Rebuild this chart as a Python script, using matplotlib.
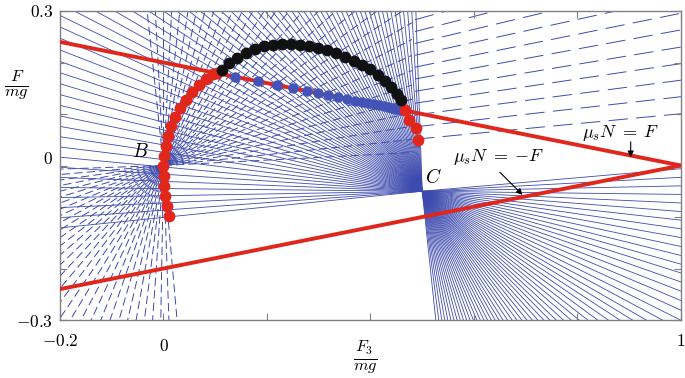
import numpy as np
import matplotlib.pyplot as plt
from matplotlib.collections import LineCollection
from matplotlib.patches import Rectangle
from matplotlib.transforms import ScaledTranslation

plt.rcParams['mathtext.fontset'] = 'cm'
plt.rcParams['font.family'] = 'DejaVu Serif'
plt.rcParams['lines.scale_dashes'] = False

# friction cone boundaries
cone_F3 = [-0.2, 1.0]
cone_upper = [0.24, 0.0]
cone_lower = [-0.24, 0.0]

# special points
B = (0.0, 0.0)
C = (0.5, -0.05)

# solid fan through C (direction angles, degrees)
c_fan_upper = [92, 93.3, 94.6, 95.9, 97.2, 98.5, 99.8, 101.1, 102.4, 103.7, 105,
               106.3, 107.6, 108.9, 110.2, 111.5, 112.8, 114.1, 115.4, 116.7, 118,
               119.3, 120.6, 121.9, 123.2, 124.5, 125.8, 127.1, 128.4, 129.7, 131,
               132.4, 133.8, 135.2, 136.6, 138, 139.4, 140.8, 142.2, 143.6, 145,
               146.5, 148, 149.5, 151, 152.5, 154, 155.5, 157, 158.6, 160.2, 161.8,
               163.4, 165, 166.6, 168.2, 169.8, 171.4, 173, 174.6, 176.2, 177.8,
               179.4, 181, 182.6, 184.2, 185.8]
c_fan_lower = [-84, -82.7, -81.4, -80.1, -78.8, -77.5, -76.2, -74.9, -73.6, -72.3,
               -71, -69.7, -68.4, -67.1, -65.8, -64.5, -63.2, -61.9, -60.6, -59.3,
               -58, -56.6, -55.2, -53.8, -52.4, -51, -49.6, -48.2, -46.8, -45.4,
               -44, -42.5, -41, -39.5, -38, -36.4, -34.8, -33.2, -31.6, -30, -28.3,
               -26.6, -24.8, -23, -21.2, -19.4, -17.6, -15.8, -14, -12.1, -10.2,
               -8.3, -6.4, -4.5, -2.6, -0.7, 1.2, 3.1, 5]

# dashed rays through B
b_rays_upper = [3, 6, 9, 12, 15, 18, 21, 24, 27, 30, 33, 36, 39, 42, 45, 48, 51,
                54, 57, 60, 63, 66, 69, 72, 75, 78, 81, 84, 87, 90, 93, 96]
b_rays_lower = [182, 185, 188, 191, 194, 197, 200, 203, 206, 209, 212, 215, 218,
                221, 224, 227, 230, 233, 236, 239, 242, 245, 248, 251, 254, 257,
                260, 263, 266, 269, 272, 275]

# dashed lines in the upper right
ur_start_F3 = 0.486
ur_start_F = [0.051, 0.075, 0.098, 0.121, 0.144, 0.168, 0.191, 0.214, 0.237, 0.260, 0.283]
ur_angle = [5.5, 6.5, 7.5, 8.5, 9.5, 10.5, 11.5, 12.5, 13.5, 14.5, 15.5]

# red points (stick branch)
red_F3 = [0.0106, 0.0068, 0.0029, 0.001, 0.001, 0.0, 0.001, 0.0048, 0.0087, 0.0145,
          0.0222, 0.0319, 0.0435, 0.0551, 0.0686, 0.0821, 0.0957, 0.103]
red_F = [-0.098, -0.0786, -0.0592, -0.0398, -0.0204, -0.001, 0.0184, 0.0379, 0.0573,
         0.0767, 0.0942, 0.1117, 0.1272, 0.1427, 0.1563, 0.168, 0.1777, 0.1794]
red2_F3 = [0.4667, 0.4744, 0.4879, 0.4918]
red2_F = [0.1078, 0.0883, 0.0728, 0.0495]

# black points
black_F3 = [0.113, 0.1266, 0.142, 0.1594, 0.1768, 0.1942, 0.2116, 0.2290, 0.2464,
            0.2638, 0.2812, 0.2986, 0.3159, 0.3333, 0.3507, 0.3681, 0.3836, 0.3990,
            0.4145, 0.4280, 0.4396, 0.4512, 0.4589]
black_F = [0.1854, 0.199, 0.2087, 0.2184, 0.2262, 0.232, 0.234, 0.2359, 0.2359, 0.234,
           0.232, 0.2282, 0.2243, 0.2184, 0.2107, 0.2029, 0.1951, 0.1874, 0.1757,
           0.1641, 0.1524, 0.1388, 0.1272]

# blue points (slip branch, on mu_s N = F)
blue_F3 = [0.1382, 0.1826, 0.2193, 0.2502, 0.2773, 0.2986, 0.3179, 0.3372, 0.3546,
           0.3700, 0.3836, 0.3952, 0.4068, 0.4164, 0.4261, 0.4338, 0.4415, 0.4473,
           0.4531, 0.4570, 0.4609, 0.4647]
blue_F = [0.1724, 0.1635, 0.1561, 0.1500, 0.1445, 0.1403, 0.1364, 0.1326, 0.1291,
          0.1260, 0.1233, 0.1210, 0.1186, 0.1167, 0.1148, 0.1132, 0.1117, 0.1105,
          0.1094, 0.1086, 0.1078, 0.1071]

line_blue = '#3d4bae'
red = '#e1261c'


def rays(origin, angles, length=3.0):
    t = np.radians(angles)
    x0, y0 = origin
    return [[(x0, y0), (x0 + length * np.cos(a), y0 + length * np.sin(a))] for a in t]


fig = plt.figure(figsize=(6.85, 3.78), dpi=100)
ax = fig.add_axes([0.0876, 0.1534, 0.9064, 0.8175])

lc = LineCollection(rays(C, c_fan_upper + c_fan_lower), colors=line_blue,
                    linewidths=0.6, zorder=1)
ax.add_collection(lc)

# alternate dash phase between neighbouring rays so they don't line up in rings
b_angles = b_rays_upper + b_rays_lower
b_styles = [(0, (6, 3)) if i % 2 == 0 else (4.5, (6, 3)) for i in range(len(b_angles))]
lb = LineCollection(rays(B, b_angles), colors=line_blue,
                    linewidths=0.7, linestyles=b_styles, zorder=1)
ax.add_collection(lb)
lb.set_clip_path(Rectangle((-0.2, -0.3), 0.68, 0.6, transform=ax.transData))

ur_segs = [[(ur_start_F3, f), (ur_start_F3 + 0.6, f + 0.6 * np.tan(np.radians(a)))]
           for f, a in zip(ur_start_F, ur_angle)]
lu = LineCollection(ur_segs, colors=line_blue, linewidths=0.7,
                    linestyles=[(0, (14, 6))], zorder=1)
ax.add_collection(lu)

ax.plot(cone_F3, cone_upper, color=red, lw=2.8, zorder=3, solid_capstyle='butt')
ax.plot(cone_F3, cone_lower, color=red, lw=2.8, zorder=3, solid_capstyle='butt')

ax.plot(blue_F3, blue_F, 'o', color='#4353b8', ms=7.5, mew=0, zorder=4)
ax.plot(red_F3, red_F, 'o', color=red, ms=8.5, mew=0, zorder=5)
ax.plot(red2_F3, red2_F, 'o', color=red, ms=8.5, mew=0, zorder=5)
ax.plot(black_F3, black_F, 'o', color='#111111', ms=8.5, mew=0, zorder=6)

ax.text(-0.045, 0.026, '$B$', fontsize=14, ha='center', va='center', zorder=7)
ax.text(0.522, -0.024, '$C$', fontsize=14, ha='center', va='center', zorder=7)

ax.annotate('', xy=(0.903, 0.016), xytext=(0.903, 0.046),
            arrowprops=dict(arrowstyle='-|>', color='black', lw=0.8,
                            mutation_scale=9, shrinkA=0, shrinkB=0), zorder=7)
ax.text(0.884, 0.064, r'$\mu_s N \;=\; F$', fontsize=13, ha='center', va='center',
        zorder=7)
ax.annotate('', xy=(0.694, -0.057), xytext=(0.65, -0.013),
            arrowprops=dict(arrowstyle='-|>', color='black', lw=0.8,
                            mutation_scale=9, shrinkA=0, shrinkB=0), zorder=7)
ax.text(0.648, 0.017, r'$\mu_s N \;=\; {-F}$', fontsize=13, ha='center', va='center',
        zorder=7)

ax.set_xlim(-0.2, 1.0)
ax.set_ylim(-0.3, 0.3)
ax.set_xticks([-0.2, 0, 0.2, 0.4, 0.6, 0.8, 1.0])
ax.set_xticklabels(['$-0.2$', '$0$', '', '', '', '', '$1$'])
ax.set_yticks([-0.3, -0.2, -0.1, 0, 0.1, 0.2, 0.3])
ax.set_yticklabels(['$-0.3$', '', '', '$0$', '', '', '$0.3$'])
ax.tick_params(direction='in', top=True, right=True, length=5, color='#808080',
               labelsize=12.5)
ax.tick_params(axis='x', pad=9)
ax.tick_params(axis='y', pad=5)
for s in ax.spines.values():
    s.set_color('#808080')
    s.set_linewidth(1.0)

# the zero labels sit a little off their ticks in the original
xl = ax.get_xticklabels()[1]
xl.set_transform(xl.get_transform() + ScaledTranslation(0, -4 / 72, fig.dpi_scale_trans))
yl = ax.get_yticklabels()[3]
yl.set_transform(yl.get_transform() + ScaledTranslation(0, 6 / 72, fig.dpi_scale_trans))

ax.text(-0.071, 0.76, r'$\frac{F}{mg}$', transform=ax.transAxes, fontsize=17,
        ha='center', va='center')
ax.text(0.491, -0.12, r'$\frac{F_3}{mg}$', transform=ax.transAxes, fontsize=17,
        ha='center', va='center')

fig.savefig('out.png', dpi=100)
